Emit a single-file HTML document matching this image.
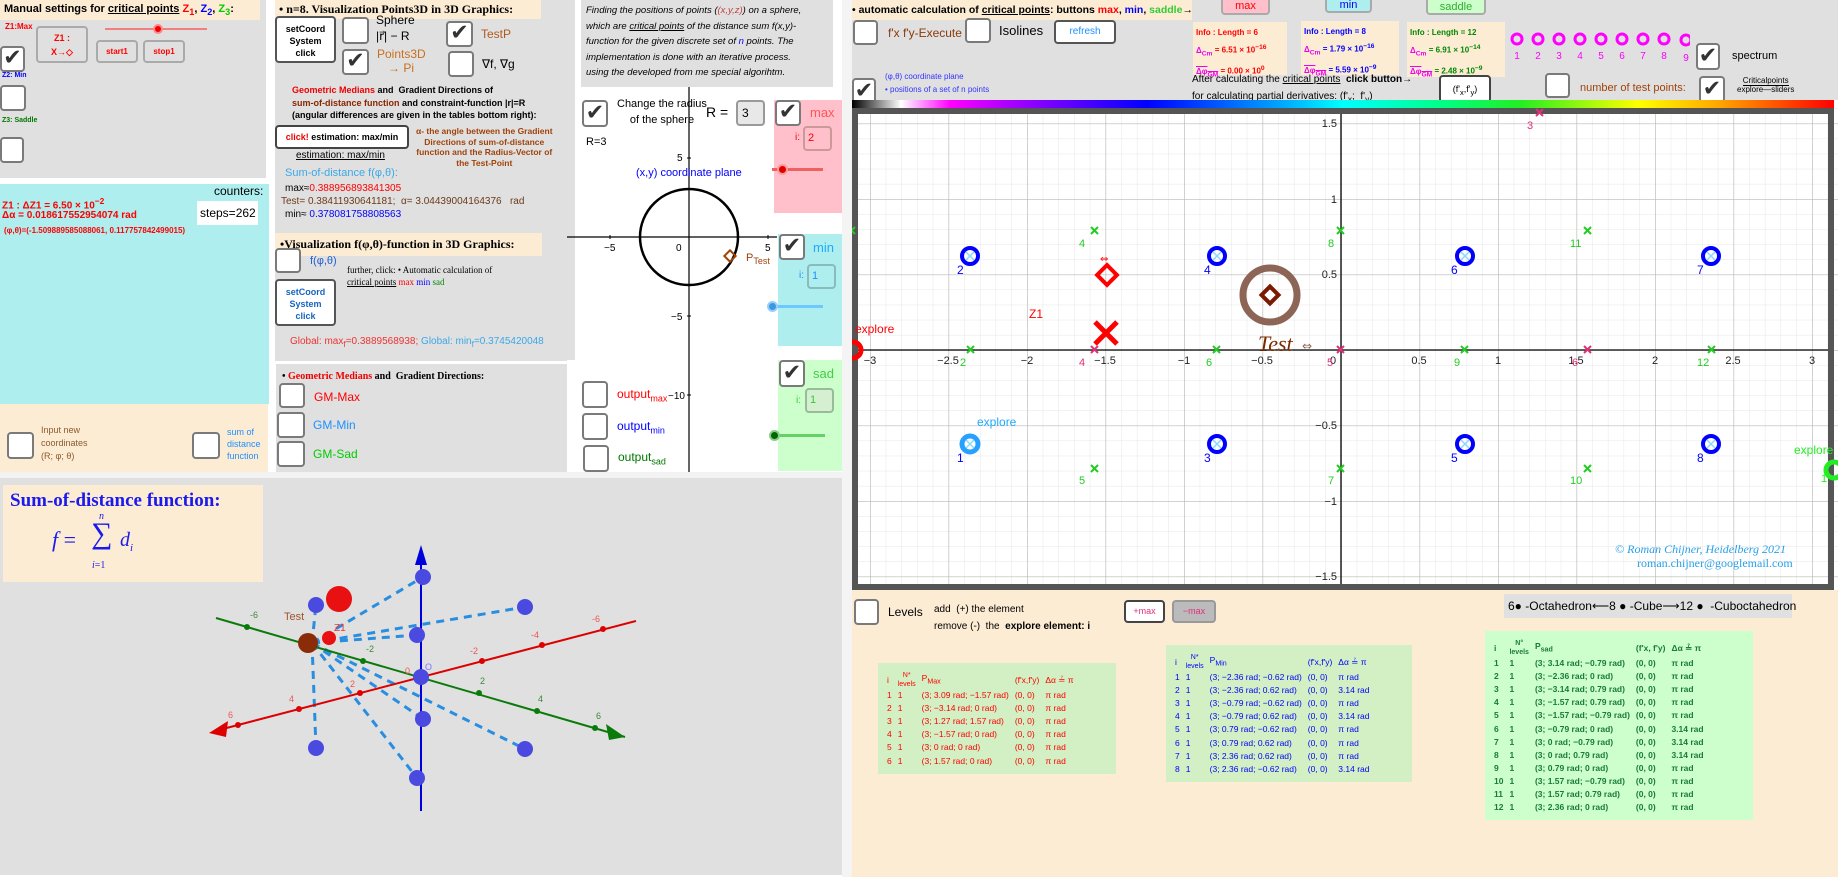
<!DOCTYPE html>
<html><head><meta charset="utf-8">
<style>
*{margin:0;padding:0;box-sizing:border-box}
body{width:1838px;height:877px;position:relative;overflow:hidden;background:#fff;font-family:"Liberation Sans",sans-serif;}
.a{position:absolute;white-space:nowrap}
.cb{position:absolute;background:#fff;border:2px solid #7a7a7a;border-radius:4px}
.ck::after{content:"✔";position:absolute;left:0;right:0;top:50%;transform:translateY(-54%);text-align:center;font-size:22px;color:#333;font-family:"DejaVu Sans",sans-serif}
.btn{position:absolute;background:#fff;border:2px solid #888;border-radius:4px;text-align:center}
.g{background:#e0e0e0}
.p{background:#fdecd4}
.s{font-family:"Liberation Serif",serif}
table{border-collapse:collapse}
td{padding:0 3px;white-space:nowrap;height:13.1px;line-height:13px}
</style></head><body>

<!-- LEFT COLUMN -->
<div class="a g" style="left:0;top:0;width:266px;height:178px"></div>
<div class="a p" style="left:0;top:0;width:260px;height:20px"></div>
<div class="a" style="left:4px;top:3px;font-size:11px;font-weight:bold">Manual settings for <u>critical points</u> <span style="color:#f00">Z<sub>1</sub></span>, <span style="color:#00f">Z<sub>2</sub></span>, <span style="color:#0c0">Z<sub>3</sub></span>:</div>
<div class="a" style="left:5px;top:22px;font-size:8px;color:#f00;font-weight:bold">Z1:Max</div>
<div class="btn g" style="left:36px;top:26px;width:52px;height:37px;border-color:#aaa;color:#f00;font-size:9px;font-weight:bold;line-height:14px;padding-top:3px">Z1 :<br>X→◇</div>
<div class="a" style="left:105px;top:28px;width:102px;height:2px;background:#f08080"></div>
<div class="a" style="left:153px;top:24px;width:10px;height:10px;border-radius:50%;background:#e00;border:2px solid #f88"></div>
<div class="btn g" style="left:96px;top:40px;width:42px;height:23px;border-color:#aaa;color:#f00;font-size:8px;font-weight:bold;line-height:19px">start1</div>
<div class="btn g" style="left:143px;top:40px;width:42px;height:23px;border-color:#aaa;color:#f00;font-size:8px;font-weight:bold;line-height:19px">stop1</div>
<div class="cb ck" style="left:0;top:46px;width:25px;height:26px"></div>
<div class="a" style="left:2px;top:72px;font-size:7px;color:#00f;font-weight:bold">Z2: Min</div>
<div class="cb" style="left:0;top:85px;width:26px;height:26px"></div>
<div class="a" style="left:2px;top:117px;font-size:7px;color:#070;font-weight:bold">Z3: Saddle</div>
<div class="cb" style="left:0;top:137px;width:24px;height:26px"></div>

<div class="a" style="left:0;top:184px;width:269px;height:220px;background:#afeeee"></div>
<div class="a" style="left:214px;top:184px;font-size:12px">counters:</div>
<div class="a" style="left:197px;top:201px;width:61px;height:24px;background:#fff;font-size:12px;line-height:24px;padding-left:3px">steps=262</div>
<div class="a" style="left:2px;top:196px;font-size:10px;color:#f00;font-weight:bold">Z1 : ΔZ1 = 6.50 × 10<sup>−2</sup></div>
<div class="a" style="left:2px;top:210px;font-size:10px;color:#f00;font-weight:bold">Δα = 0.018617552954074 rad</div>
<div class="a" style="left:4px;top:226px;font-size:8px;color:#f00;font-weight:bold">(φ,θ)=(-1.509889585088061, 0.117757842499015)</div>

<div class="a p" style="left:0;top:404px;width:268px;height:68px"></div>
<div class="cb" style="left:7px;top:432px;width:27px;height:27px"></div>
<div class="a" style="left:41px;top:424px;font-size:9px;color:#8b5a2b;line-height:13px">Input new<br>coordinates<br>(R; φ; θ)</div>
<div class="cb" style="left:192px;top:432px;width:28px;height:27px"></div>
<div class="a" style="left:227px;top:426px;font-size:9px;color:#1e90ff;line-height:12px">sum of<br>distance<br>function</div>

<!-- MIDDLE COLUMN -->
<div class="a g" style="left:275px;top:0;width:292px;height:361px"></div>
<div class="a p" style="left:275px;top:0;width:266px;height:19px"></div>
<div class="a s" style="left:279px;top:2px;font-size:12px;font-weight:bold">• n=8. Visualization Points3D in 3D Graphics:</div>
<div class="btn" style="left:275px;top:16px;width:61px;height:47px;border-color:#555;font-size:9px;line-height:12px;padding-top:5px;font-weight:bold">setCoord<br>System<br>click</div>
<div class="cb" style="left:342px;top:17px;width:27px;height:27px"></div>
<div class="a" style="left:376px;top:13px;font-size:12px">Sphere</div>
<div class="a" style="left:376px;top:29px;font-size:12px">|r⃗| − R</div>
<div class="cb ck" style="left:342px;top:49px;width:27px;height:26px"></div>
<div class="a" style="left:377px;top:47px;font-size:12px;color:#c87020">Points3D</div>
<div class="a" style="left:388px;top:61px;font-size:12px;color:#c87020">→ Pi</div>
<div class="cb ck" style="left:446px;top:21px;width:27px;height:26px"></div>
<div class="a" style="left:481px;top:27px;font-size:12px;color:#b05a20">TestP</div>
<div class="cb" style="left:448px;top:51px;width:26px;height:26px"></div>
<div class="a" style="left:482px;top:57px;font-size:12px">∇f, ∇g</div>
<div class="a" style="left:292px;top:84px;font-size:9px;font-weight:bold;line-height:12.5px"><span style="color:#e00">Geometric Medians</span> and &nbsp;Gradient Directions of<br><span style="color:#8b2500">sum-of-distance function</span> and constraint-function |r|=R<br>(angular differences are given in the tables bottom right):</div>
<div class="btn" style="left:275px;top:125px;width:134px;height:24px;border-color:#444;font-size:9px;line-height:20px;font-weight:bold"><span style="color:#e00">click!</span> estimation: max/min</div>
<div class="a" style="left:416px;top:126px;font-size:8.5px;color:#a0420a;font-weight:bold;line-height:10.5px;text-align:center">α- the angle between the Gradient<br>Directions of sum-of-distance<br>function and the Radius-Vector of<br>the Test-Point</div>
<div class="a" style="left:296px;top:150px;font-size:10px;text-decoration:underline">estimation: max/min</div>
<div class="a" style="left:285px;top:167px;font-size:11px;color:#3ba8e8">Sum-of-distance f(φ,θ):</div>
<div class="a" style="left:285px;top:183px;font-size:10px">max≈<span style="color:#f00">0.388956893841305</span></div>
<div class="a" style="left:281px;top:196px;font-size:10px;color:#6b3a1a">Test= 0.38411930641181; &nbsp;α= 3.04439004164376 &nbsp;&nbsp;rad</div>
<div class="a" style="left:285px;top:209px;font-size:10px">min≈ <span style="color:#00f">0.378081758808563</span></div>
<div class="a p" style="left:275px;top:233px;width:267px;height:23px"></div>
<div class="a s" style="left:280px;top:237px;font-size:12px;font-weight:bold">•Visualization f(φ,θ)-function in 3D Graphics:</div>
<div class="cb" style="left:275px;top:248px;width:26px;height:25px"></div>
<div class="a" style="left:310px;top:255px;font-size:11px;color:#1e5fd0">f(φ,θ)</div>
<div class="a s" style="left:347px;top:264px;font-size:9px;line-height:12px">further, click: • Automatic calculation of<br><u>critical points</u> <span style="color:#f00">max</span> <span style="color:#00f">min</span> <span style="color:#080">sad</span></div>
<div class="btn" style="left:275px;top:279px;width:61px;height:47px;border-color:#555;font-size:9px;line-height:12px;padding-top:5px;color:#1565c0;font-weight:bold">setCoord<br>System<br>click</div>
<div class="a" style="left:290px;top:336px;font-size:10px;color:#e33">Global: max<sub>f</sub>=0.3889568938; <span style="color:#3ba8e8">Global: min<sub>f</sub>=0.3745420048</span></div>

<div class="a g" style="left:276px;top:364px;width:291px;height:108px"></div>
<div class="a s" style="left:282px;top:371px;font-size:10px;font-weight:bold">• <span style="color:#e00">Geometric Medians</span> and &nbsp;Gradient Directions:</div>
<div class="cb" style="left:279px;top:383px;width:26px;height:25px"></div>
<div class="a" style="left:314px;top:390px;font-size:12px;color:#f00">GM-Max</div>
<div class="cb" style="left:277px;top:412px;width:28px;height:26px"></div>
<div class="a" style="left:313px;top:418px;font-size:12px;color:#1e90ff">GM-Min</div>
<div class="cb" style="left:277px;top:441px;width:28px;height:26px"></div>
<div class="a" style="left:313px;top:447px;font-size:12px;color:#0c0">GM-Sad</div>

<!-- COLUMN 3 -->
<div class="a" style="left:567px;top:0;width:275px;height:472px;background:#fff"></div>
<div class="a g" style="left:567px;top:0;width:8px;height:360px"></div>
<div class="a g" style="left:581px;top:0;width:252px;height:87px"></div>
<div class="a" style="left:586px;top:3px;font-size:9.5px;font-style:italic;line-height:15.5px">Finding the positions of points (<span style="color:#c04040">(x,y,z)</span>) on a sphere,<br>which are <u>critical points</u> of the distance sum f(x,y)-<br>function for the given discrete set of <span style="color:#00f">n</span> points. The<br>implementation is done with an iterative process.<br>using the developed from me special algorihtm.</div>
<svg class="a" style="left:567px;top:87px" width="210" height="385" viewBox="567 87 210 385">
<line x1="689" y1="87" x2="689" y2="472" stroke="#000" stroke-width="1.2"/>
<line x1="567" y1="237" x2="777" y2="237" stroke="#000" stroke-width="1.2"/>
<g stroke="#000"><line x1="610" y1="235" x2="610" y2="239"/><line x1="768" y1="235" x2="768" y2="239"/><line x1="687" y1="158" x2="691" y2="158"/><line x1="687" y1="316" x2="691" y2="316"/><line x1="687" y1="395" x2="691" y2="395"/></g>
<g font-size="10" font-family="Liberation Sans" fill="#000"><text x="604" y="251">−5</text><text x="676" y="251">0</text><text x="765" y="251">5</text><text x="677" y="161">5</text><text x="671" y="320">−5</text><text x="668" y="399">−10</text></g>
<ellipse cx="689" cy="237" rx="49" ry="48" fill="none" stroke="#000" stroke-width="2.5"/>
<rect x="726" y="252" width="8" height="8" transform="rotate(45 730 256)" fill="none" stroke="#a0420a" stroke-width="2"/>
<text x="746" y="261" font-size="11" fill="#a0420a" font-family="Liberation Sans">P<tspan font-size="9" dy="3">Test</tspan></text>
<text x="636" y="176" font-size="11" fill="#00f" font-family="Liberation Sans">(x,y) coordinate plane</text>
</svg>
<div class="cb ck" style="left:582px;top:100px;width:26px;height:27px"></div>
<div class="a" style="left:617px;top:96px;font-size:11px;line-height:16px;text-align:center">Change the radius<br>of the sphere</div>
<div class="a" style="left:706px;top:104px;font-size:14px">R =</div>
<div class="a" style="left:736px;top:100px;width:29px;height:26px;background:#e8e8e8;border:2px solid #999;border-radius:4px;font-size:12px;padding:4px 0 0 4px">3</div>
<div class="a" style="left:586px;top:136px;font-size:11px">R=3</div>

<div class="a" style="left:774px;top:100px;width:68px;height:113px;background:#ffc0cb"></div>
<div class="cb ck" style="left:775px;top:100px;width:26px;height:26px"></div>
<div class="a" style="left:810px;top:105px;font-size:13px;color:#f55">max</div>
<div class="a" style="left:795px;top:132px;font-size:10px;color:#f00">i:</div>
<div class="a" style="left:803px;top:126px;width:29px;height:25px;border:2px solid #c99;border-radius:4px;font-size:11px;color:#f00;padding:4px 0 0 3px">2</div>
<div class="a" style="left:772px;top:168px;width:51px;height:3px;background:#f06060"></div>
<div class="a" style="left:777px;top:164px;width:11px;height:11px;border-radius:50%;background:#d00;border:2px solid #f99"></div>
<div class="a" style="left:778px;top:234px;width:64px;height:112px;background:#afeeee"></div>
<div class="cb ck" style="left:779px;top:234px;width:26px;height:26px"></div>
<div class="a" style="left:813px;top:240px;font-size:13px;color:#1eaaff">min</div>
<div class="a" style="left:799px;top:270px;font-size:10px;color:#1e90ff">i:</div>
<div class="a" style="left:807px;top:264px;width:29px;height:25px;border:2px solid #8bb;border-radius:4px;font-size:11px;color:#1e90ff;padding:4px 0 0 3px">1</div>
<div class="a" style="left:772px;top:305px;width:51px;height:3px;background:#6cc8ff"></div>
<div class="a" style="left:767px;top:301px;width:11px;height:11px;border-radius:50%;background:#3a9ae0;border:2px solid #9cf"></div>
<div class="a" style="left:778px;top:360px;width:64px;height:111px;background:#ccffcc"></div>
<div class="cb ck" style="left:779px;top:360px;width:26px;height:27px"></div>
<div class="a" style="left:813px;top:366px;font-size:13px;color:#44cc44">sad</div>
<div class="a" style="left:796px;top:395px;font-size:10px;color:#3c3">i:</div>
<div class="a" style="left:805px;top:388px;width:29px;height:25px;background:#d4f0d0;border:2px solid #9b9;border-radius:4px;font-size:11px;color:#3c3;padding:4px 0 0 3px">1</div>
<div class="a" style="left:774px;top:434px;width:51px;height:3px;background:#66d066"></div>
<div class="a" style="left:769px;top:430px;width:11px;height:11px;border-radius:50%;background:#060;border:2px solid #8c8"></div>

<div class="cb" style="left:582px;top:381px;width:26px;height:27px"></div>
<div class="a" style="left:617px;top:387px;font-size:12px;color:#f00">output<sub style="font-size:9px">max</sub></div>
<div class="cb" style="left:582px;top:413px;width:26px;height:27px"></div>
<div class="a" style="left:617px;top:419px;font-size:12px;color:#00f">output<sub style="font-size:9px">min</sub></div>
<div class="cb" style="left:583px;top:445px;width:26px;height:27px"></div>
<div class="a" style="left:618px;top:450px;font-size:12px;color:#070">output<sub style="font-size:9px">sad</sub></div>

<!-- separator + 3D -->
<div class="a" style="left:0;top:472px;width:844px;height:6px;background:#f3f3f3"></div>
<div class="a g" style="left:0;top:478px;width:842px;height:397px"></div>
<div class="a p" style="left:3px;top:485px;width:260px;height:97px"></div>
<div class="a s" style="left:10px;top:490px;font-size:19px;font-weight:bold;color:#1a1aee">Sum-of-distance function:</div>
<div class="a s" style="left:52px;top:527px;font-size:22px;font-style:italic;color:#1a1aee">f <span style="font-style:normal">=</span></div>
<div class="a s" style="left:91px;top:517px;font-size:30px;color:#1a1aee">∑</div>
<div class="a s" style="left:99px;top:511px;font-size:10px;font-style:italic;color:#1a1aee">n</div>
<div class="a s" style="left:92px;top:560px;font-size:10px;color:#1a1aee"><i>i</i>=1</div>
<div class="a s" style="left:120px;top:529px;font-size:20px;font-style:italic;color:#1a1aee">d<sub style="font-size:11px">i</sub></div>
<svg class="a" style="left:0;top:478px" width="842" height="397" viewBox="0 478 842 397">
<g stroke="#2a8ee0" stroke-width="3" stroke-dasharray="8 6" fill="none">
<line x1="312" y1="643" x2="423" y2="577"/><line x1="312" y1="643" x2="316" y2="605"/><line x1="312" y1="643" x2="525" y2="607"/><line x1="312" y1="643" x2="417" y2="635"/><line x1="312" y1="643" x2="423" y2="719"/><line x1="312" y1="643" x2="316" y2="748"/><line x1="312" y1="643" x2="525" y2="749"/><line x1="312" y1="643" x2="417" y2="778"/>
</g>
<line x1="216" y1="618" x2="625" y2="737" stroke="#0a7a0a" stroke-width="2"/>
<polygon points="625,737 606,724 609,740" fill="#0a7a0a"/>
<line x1="636" y1="621" x2="215" y2="731" stroke="#d00" stroke-width="2"/>
<polygon points="209,733 228,721 226,737" fill="#d00"/>
<line x1="421" y1="553" x2="421" y2="811" stroke="#00d" stroke-width="2"/>
<polygon points="421,545 415,565 427,565" fill="#00d"/>
<g fill="#0a7a0a"><circle cx="247" cy="627" r="3"/><circle cx="363" cy="661" r="3"/><circle cx="479" cy="693" r="3"/><circle cx="537" cy="711" r="3"/><circle cx="595" cy="728" r="3"/></g>
<g fill="#d00"><circle cx="603" cy="629" r="3"/><circle cx="542" cy="645" r="3"/><circle cx="482" cy="661" r="3"/><circle cx="360" cy="693" r="3"/><circle cx="299" cy="709" r="3"/><circle cx="238" cy="725" r="3"/></g>
<g font-size="9" font-family="Liberation Sans"><text x="250" y="618" fill="#3a8a3a">-6</text><text x="366" y="652" fill="#3a8a3a">-2</text><text x="480" y="684" fill="#3a8a3a">2</text><text x="538" y="702" fill="#3a8a3a">4</text><text x="596" y="719" fill="#3a8a3a">6</text><text x="592" y="622" fill="#e55">-6</text><text x="531" y="638" fill="#e55">-4</text><text x="470" y="654" fill="#e55">-2</text><text x="350" y="687" fill="#e55">2</text><text x="289" y="702" fill="#e55">4</text><text x="228" y="718" fill="#e55">6</text><text x="405" y="674" fill="#e55">0</text><text x="425" y="670" fill="#77f">O</text></g>
<g fill="#4a4ae0"><circle cx="423" cy="577" r="8"/><circle cx="316" cy="605" r="8"/><circle cx="525" cy="607" r="8"/><circle cx="417" cy="635" r="8"/><circle cx="421" cy="677" r="8"/><circle cx="423" cy="719" r="8"/><circle cx="316" cy="748" r="8"/><circle cx="525" cy="749" r="8"/><circle cx="417" cy="778" r="8"/></g>
<circle cx="339" cy="599" r="13" fill="#e81010"/>
<circle cx="329" cy="638" r="7" fill="#e81010"/>
<circle cx="308" cy="643" r="10" fill="#8b2c08"/>
<text x="284" y="620" font-size="11" fill="#a0522d" font-family="Liberation Sans">Test</text>
<text x="334" y="631" font-size="10" fill="#e33" font-family="Liberation Sans">Z1</text>
</svg>
<div class="a" style="left:842px;top:0;width:10px;height:877px;background:#f4f4f4"></div>

<!-- RIGHT SECTION -->
<div class="a g" style="left:852px;top:0;width:986px;height:100px"></div>
<div class="a p" style="left:852px;top:0;width:340px;height:20px"></div>
<div class="a" style="left:852px;top:4px;font-size:10.5px;font-weight:bold">• automatic calculation of <u>critical points</u>: buttons <span style="color:#f00">max</span>, <span style="color:#00f">min</span>, <span style="color:#3c3">saddle</span>→</div>
<div class="cb" style="left:853px;top:20px;width:25px;height:25px"></div>
<div class="a" style="left:888px;top:26px;font-size:12px;color:#8b3a0a">f'x f'y-Execute</div>
<div class="cb" style="left:965px;top:18px;width:26px;height:25px"></div>
<div class="a" style="left:999px;top:23px;font-size:13px">Isolines</div>
<div class="btn" style="left:1054px;top:20px;width:62px;height:24px;border-color:#555;font-size:10px;color:#1e90ff;line-height:20px">refresh</div>
<div class="btn" style="left:1221px;top:-3px;width:49px;height:18px;background:#ffc0cb;border-color:#aaa;font-size:11px;color:#f00;line-height:14px">max</div>
<div class="btn" style="left:1325px;top:-3px;width:47px;height:16px;background:#afeeee;border-color:#aaa;font-size:11px;color:#00f;line-height:13px">min</div>
<div class="btn" style="left:1426px;top:-3px;width:60px;height:18px;background:#ccffcc;border-color:#aaa;font-size:11px;color:#3a3;line-height:16px">saddle</div>
<div class="a p" style="left:1193px;top:22px;width:94px;height:53px;font-size:8px;font-weight:bold;color:#f00;padding:3px;line-height:15px">Info : Length = 6<br><span style="color:#e0e">Δ<sub>Cm</sub></span> = 6.51 × 10<sup>−16</sup><br><span style="color:#e0e;text-decoration:overline">Δφ<sub>GM</sub></span> = 0.00 × 10<sup>0</sup></div>
<div class="a p" style="left:1301px;top:21px;width:98px;height:54px;font-size:8px;font-weight:bold;color:#00f;padding:3px;line-height:15px">Info : Length = 8<br><span style="color:#e0e">Δ<sub>Cm</sub></span> = 1.79 × 10<sup>−16</sup><br><span style="color:#e0e;text-decoration:overline">Δφ<sub>GM</sub></span> = 5.59 × 10<sup>−9</sup></div>
<div class="a p" style="left:1407px;top:22px;width:98px;height:55px;font-size:8px;font-weight:bold;color:#080;padding:3px;line-height:15px">Info : Length = 12<br><span style="color:#e0e">Δ<sub>Cm</sub></span> = 6.91 × 10<sup>−14</sup><br><span style="color:#e0e;text-decoration:overline">Δφ<sub>GM</sub></span> = 2.48 × 10<sup>−9</sup></div>
<svg class="a" style="left:1505px;top:28px" width="185" height="36">
<g fill="none" stroke="#f0f" stroke-width="3"><circle cx="12" cy="11" r="5"/><circle cx="33" cy="11" r="5"/><circle cx="54" cy="11" r="5"/><circle cx="75" cy="11" r="5"/><circle cx="96" cy="11" r="5"/><circle cx="117" cy="11" r="5"/><circle cx="138" cy="11" r="5"/><circle cx="159" cy="11" r="5"/><circle cx="181" cy="12" r="5"/></g>
<g fill="#f0f" font-size="10" font-family="Liberation Sans" text-anchor="middle"><text x="12" y="31">1</text><text x="33" y="31">2</text><text x="54" y="31">3</text><text x="75" y="31">4</text><text x="96" y="31">5</text><text x="117" y="31">6</text><text x="138" y="31">7</text><text x="159" y="31">8</text><text x="181" y="33">9</text></g>
</svg>
<div class="cb ck" style="left:1696px;top:43px;width:24px;height:27px"></div>
<div class="a" style="left:1732px;top:50px;font-size:11px">spectrum</div>
<div class="cb ck" style="left:852px;top:78px;width:24px;height:27px"></div>
<div class="a" style="left:885px;top:72px;font-size:8px;color:#33f">(φ,θ) coordinate plane</div>
<div class="a" style="left:885px;top:85px;font-size:8px;color:#33f">• positions of a set of n points</div>
<div class="a" style="left:1192px;top:74px;font-size:10px">After calculating the <u>critical points</u> &nbsp;<b>click button</b>→</div>
<div class="a" style="left:1192px;top:91px;font-size:10px">for calculating partial derivatives: (f'<sub>x</sub>; &nbsp;f'<sub>y</sub>)</div>
<div class="btn" style="left:1439px;top:75px;width:52px;height:28px;border-color:#444;font-size:9px;line-height:24px">(f'<sub>x</sub>,f'<sub>y</sub>)</div>
<div class="cb" style="left:1545px;top:73px;width:25px;height:25px"></div>
<div class="a" style="left:1580px;top:82px;font-size:11px;color:#a0420a">number of test points:</div>
<div class="cb ck" style="left:1699px;top:76px;width:26px;height:27px"></div>
<div class="a" style="left:1737px;top:76px;font-size:8px;line-height:9px;text-align:center"><span style="border-bottom:1px solid #000">Criticalpoints</span><br>explore—sliders</div>
<div class="a" style="left:852px;top:100px;width:982px;height:8px;background:linear-gradient(90deg,#000 0%,#fff 5%,#f0f 10%,#a0f 16%,#00f 30%,#0af 44%,#0ff 50%,#0f8 60%,#2e2 68%,#ff0 80%,#fa0 88%,#f00 100%)"></div>

<!-- GRAPH -->
<svg class="a" style="left:852px;top:108px" width="986" height="482" viewBox="852 108 986 482">
<defs>
<pattern id="mn" x="1341" y="350" width="15.7" height="15.1" patternUnits="userSpaceOnUse"><path d="M0 0H15.7M0 0V15.1" stroke="#e6e6e6" stroke-width="1" fill="none"/></pattern>
<pattern id="mj" x="1341" y="350" width="78.5" height="75.5" patternUnits="userSpaceOnUse"><path d="M0 0H78.5M0 0V75.5" stroke="#b8b8b8" stroke-width="1.3" fill="none"/></pattern>
</defs>
<rect x="852" y="108" width="986" height="482" fill="#fff"/>
<rect x="852" y="108" width="986" height="482" fill="url(#mn)"/>
<rect x="852" y="108" width="986" height="482" fill="url(#mj)"/>
<line x1="852" y1="350" x2="1834" y2="350" stroke="#000" stroke-width="1.3"/>
<line x1="1341" y1="108" x2="1341" y2="590" stroke="#000" stroke-width="1.3"/>
<rect x="855" y="111" width="976" height="476" fill="none" stroke="#555" stroke-width="6"/>
<g font-size="11" font-family="Liberation Sans" fill="#222" text-anchor="middle">
<text x="870" y="364">−3</text><text x="948" y="364">−2.5</text><text x="1027" y="364">−2</text><text x="1105" y="364">−1.5</text><text x="1184" y="364">−1</text><text x="1262" y="364">−0.5</text><text x="1333" y="364">0</text><text x="1419" y="364">0.5</text><text x="1498" y="364">1</text><text x="1576" y="364">1.5</text><text x="1655" y="364">2</text><text x="1733" y="364">2.5</text><text x="1812" y="364">3</text>
</g>
<g font-size="11" font-family="Liberation Sans" fill="#222" text-anchor="end">
<text x="1337" y="127">1.5</text><text x="1337" y="203">1</text><text x="1337" y="278">0.5</text><text x="1337" y="429">−0.5</text><text x="1337" y="505">−1</text><text x="1337" y="580">−1.5</text>
</g>
<g stroke="#2c2" stroke-width="2">
<path d="M848 227l7 7M855 227l-7 7"/><path d="M1091 227l7 7M1098 227l-7 7"/><path d="M1337 227l7 7M1344 227l-7 7"/><path d="M1584 227l7 7M1591 227l-7 7"/>
<path d="M1091 465l7 7M1098 465l-7 7"/><path d="M1337 465l7 7M1344 465l-7 7"/><path d="M1584 465l7 7M1591 465l-7 7"/>
<path d="M967 346l7 7M974 346l-7 7"/><path d="M1213 346l7 7M1220 346l-7 7"/><path d="M1461 346l7 7M1468 346l-7 7"/><path d="M1708 346l7 7M1715 346l-7 7"/>
</g>
<g fill="#2c2" font-size="11" font-family="Liberation Sans">
<text x="1079" y="247">4</text><text x="1328" y="247">8</text><text x="1570" y="247">11</text><text x="1079" y="484">5</text><text x="1328" y="484">7</text><text x="1570" y="484">10</text>
<text x="960" y="366">2</text><text x="1206" y="366">6</text><text x="1454" y="366">9</text><text x="1697" y="366">12</text>
</g>
<g stroke="#e0307a" stroke-width="2">
<path d="M1091 346l7 7M1098 346l-7 7"/><path d="M1337 346l7 7M1344 346l-7 7"/><path d="M1584 346l7 7M1591 346l-7 7"/><path d="M1536 109l7 7M1543 109l-7 7"/>
</g>
<g fill="#e0307a" font-size="11" font-family="Liberation Sans">
<text x="1079" y="366">4</text><text x="1327" y="366">5</text><text x="1572" y="366">6</text><text x="1527" y="129">3</text>
</g>
<g fill="none" stroke="#00f" stroke-width="4"><circle cx="970" cy="256" r="8"/><circle cx="1217" cy="256" r="8"/><circle cx="1465" cy="256" r="8"/><circle cx="1711" cy="256" r="8"/><circle cx="1217" cy="444" r="8"/><circle cx="1465" cy="444" r="8"/><circle cx="1711" cy="444" r="8"/></g>
<circle cx="970" cy="444" r="8" fill="none" stroke="#28a0ff" stroke-width="5"/>
<g stroke="#8cd8ff" stroke-width="1.5"><path d="M966 252l8 8M974 252l-8 8M1213 252l8 8M1221 252l-8 8M1461 252l8 8M1469 252l-8 8M1707 252l8 8M1715 252l-8 8M966 440l8 8M974 440l-8 8M1213 440l8 8M1221 440l-8 8M1461 440l8 8M1469 440l-8 8M1707 440l8 8M1715 440l-8 8"/></g>
<g fill="#00f" font-size="12" font-family="Liberation Sans"><text x="957" y="274">2</text><text x="1204" y="274">4</text><text x="1451" y="274">6</text><text x="1697" y="274">7</text><text x="957" y="462">1</text><text x="1204" y="462">3</text><text x="1451" y="462">5</text><text x="1697" y="462">8</text></g>
<text x="977" y="426" fill="#1eaaff" font-size="12" font-family="Liberation Sans">explore</text>
<circle cx="853" cy="350" r="8" fill="none" stroke="#f00" stroke-width="5"/>
<text x="855" y="333" fill="#f00" font-size="12" font-family="Liberation Sans">explore</text>
<circle cx="1834" cy="470" r="8" fill="none" stroke="#2e2" stroke-width="5"/>
<text x="1794" y="454" fill="#2e2" font-size="12" font-family="Liberation Sans">explore</text>
<text x="1821" y="482" fill="#2e2" font-size="11" font-family="Liberation Sans">1</text>
<rect x="1100" y="268" width="14" height="14" transform="rotate(45 1107 275)" fill="none" stroke="#f00" stroke-width="4"/>
<text x="1100" y="262" fill="#f00" font-size="10" font-family="DejaVu Sans">⇔</text>
<path d="M1095 322l22 22M1117 322l-22 22" stroke="#f00" stroke-width="5"/>
<text x="1029" y="318" fill="#f00" font-size="12" font-family="Liberation Sans">Z1</text>
<circle cx="1270" cy="295" r="27" fill="none" stroke="#8d6557" stroke-width="7"/>
<rect x="1264" y="289" width="12" height="12" transform="rotate(45 1270 295)" fill="none" stroke="#7a1a00" stroke-width="4"/>
<text x="1258" y="351" fill="#7b2a00" font-size="22" font-style="italic" font-family="Liberation Serif">Test</text>
<text x="1302" y="350" fill="#8d6557" font-size="12" font-family="DejaVu Sans">⇔</text>
<text x="1615" y="553" fill="#28a0e8" font-size="12" font-family="Liberation Serif" font-style="italic">©  Roman Chijner, Heidelberg 2021</text>
<text x="1637" y="567" fill="#28a0e8" font-size="12" font-family="Liberation Serif">roman.chijner@googlemail.com</text>
</svg>

<!-- BOTTOM RIGHT -->
<div class="a p" style="left:852px;top:590px;width:986px;height:287px"></div>
<div class="cb" style="left:854px;top:599px;width:25px;height:26px"></div>
<div class="a" style="left:888px;top:605px;font-size:12px">Levels</div>
<div class="a" style="left:934px;top:601px;font-size:10px;line-height:17px">add &nbsp;(+) the element<br>remove (-) &nbsp;the &nbsp;<b>explore element: i</b></div>
<div class="btn" style="left:1124px;top:600px;width:41px;height:23px;border-color:#444;font-size:9px;color:#e0307a;line-height:19px">+max</div>
<div class="btn" style="left:1172px;top:600px;width:44px;height:23px;background:#bbb;border-color:#999;font-size:9px;color:#e0307a;line-height:19px">−max</div>
<div class="a g" style="left:1504px;top:594px;width:288px;height:24px;font-size:12px;line-height:24px;padding-left:4px">6● -Octahedron⟵8 ● -Cube⟶12 ● &nbsp;-Cuboctahedron</div>

<div class="a" style="left:878px;top:663px;width:238px;height:111px;background:#d2f0c4;color:#f00;font-size:8.5px;padding:8px 0 0 6px">
<table><tr><td>i</td><td style="font-size:7px;text-align:center;line-height:9px">N*<br>levels</td><td>P<sub>Max</sub></td><td>(f'x,f'y)</td><td>Δα ≟ π</td></tr>
<tr><td>1</td><td>1</td><td>(3; 3.09 rad; −1.57 rad)</td><td>(0, 0)</td><td>π rad</td></tr>
<tr><td>2</td><td>1</td><td>(3; −3.14 rad; 0 rad)</td><td>(0, 0)</td><td>π rad</td></tr>
<tr><td>3</td><td>1</td><td>(3; 1.27 rad; 1.57 rad)</td><td>(0, 0)</td><td>π rad</td></tr>
<tr><td>4</td><td>1</td><td>(3; −1.57 rad; 0 rad)</td><td>(0, 0)</td><td>π rad</td></tr>
<tr><td>5</td><td>1</td><td>(3; 0 rad; 0 rad)</td><td>(0, 0)</td><td>π rad</td></tr>
<tr><td>6</td><td>1</td><td>(3; 1.57 rad; 0 rad)</td><td>(0, 0)</td><td>π rad</td></tr></table></div>

<div class="a" style="left:1166px;top:645px;width:246px;height:137px;background:#d2f0c4;color:#00f;font-size:8.5px;padding:8px 0 0 6px">
<table><tr><td>i</td><td style="font-size:7px;text-align:center;line-height:9px">N*<br>levels</td><td>P<sub>Min</sub></td><td>(f'x,f'y)</td><td>Δα ≟ π</td></tr>
<tr><td>1</td><td>1</td><td>(3; −2.36 rad; −0.62 rad)</td><td>(0, 0)</td><td>π rad</td></tr>
<tr><td>2</td><td>1</td><td>(3; −2.36 rad; 0.62 rad)</td><td>(0, 0)</td><td>3.14 rad</td></tr>
<tr><td>3</td><td>1</td><td>(3; −0.79 rad; −0.62 rad)</td><td>(0, 0)</td><td>π rad</td></tr>
<tr><td>4</td><td>1</td><td>(3; −0.79 rad; 0.62 rad)</td><td>(0, 0)</td><td>3.14 rad</td></tr>
<tr><td>5</td><td>1</td><td>(3; 0.79 rad; −0.62 rad)</td><td>(0, 0)</td><td>π rad</td></tr>
<tr><td>6</td><td>1</td><td>(3; 0.79 rad; 0.62 rad)</td><td>(0, 0)</td><td>π rad</td></tr>
<tr><td>7</td><td>1</td><td>(3; 2.36 rad; 0.62 rad)</td><td>(0, 0)</td><td>π rad</td></tr>
<tr><td>8</td><td>1</td><td>(3; 2.36 rad; −0.62 rad)</td><td>(0, 0)</td><td>3.14 rad</td></tr></table></div>

<div class="a" style="left:1485px;top:631px;width:268px;height:189px;background:#ccffcc;color:#1a7a3a;font-size:8.5px;font-weight:bold;padding:8px 0 0 6px">
<table><tr><td>i</td><td style="font-size:7px;text-align:center;line-height:9px">N°<br>levels</td><td>P<sub>sad</sub></td><td>(f'x, f'y)</td><td>Δα ≟ π</td></tr>
<tr><td>1</td><td>1</td><td>(3; 3.14 rad; −0.79 rad)</td><td>(0, 0)</td><td>π rad</td></tr>
<tr><td>2</td><td>1</td><td>(3; −2.36 rad; 0 rad)</td><td>(0, 0)</td><td>π rad</td></tr>
<tr><td>3</td><td>1</td><td>(3; −3.14 rad; 0.79 rad)</td><td>(0, 0)</td><td>π rad</td></tr>
<tr><td>4</td><td>1</td><td>(3; −1.57 rad; 0.79 rad)</td><td>(0, 0)</td><td>π rad</td></tr>
<tr><td>5</td><td>1</td><td>(3; −1.57 rad; −0.79 rad)</td><td>(0, 0)</td><td>π rad</td></tr>
<tr><td>6</td><td>1</td><td>(3; −0.79 rad; 0 rad)</td><td>(0, 0)</td><td>3.14 rad</td></tr>
<tr><td>7</td><td>1</td><td>(3; 0 rad; −0.79 rad)</td><td>(0, 0)</td><td>3.14 rad</td></tr>
<tr><td>8</td><td>1</td><td>(3; 0 rad; 0.79 rad)</td><td>(0, 0)</td><td>3.14 rad</td></tr>
<tr><td>9</td><td>1</td><td>(3; 0.79 rad; 0 rad)</td><td>(0, 0)</td><td>π rad</td></tr>
<tr><td>10</td><td>1</td><td>(3; 1.57 rad; −0.79 rad)</td><td>(0, 0)</td><td>π rad</td></tr>
<tr><td>11</td><td>1</td><td>(3; 1.57 rad; 0.79 rad)</td><td>(0, 0)</td><td>π rad</td></tr>
<tr><td>12</td><td>1</td><td>(3; 2.36 rad; 0 rad)</td><td>(0, 0)</td><td>π rad</td></tr></table></div>

</body></html>
